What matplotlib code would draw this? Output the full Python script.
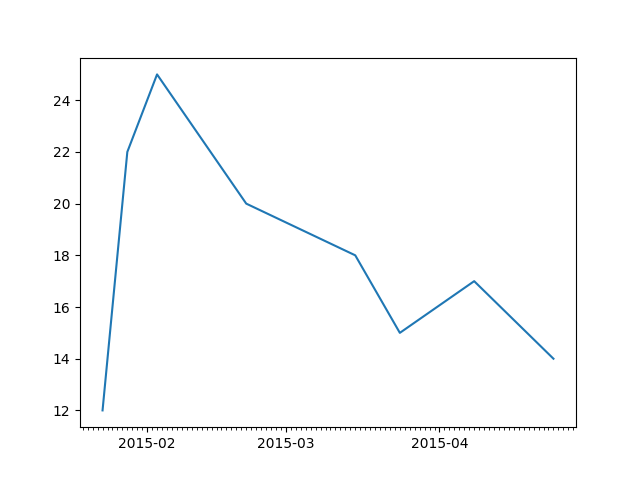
import datetime as dt
import matplotlib
matplotlib.use("Agg")
import matplotlib.pyplot as plt
import matplotlib.dates as mdates

dates = [dt.date(2015, 1, 23), dt.date(2015, 1, 28), dt.date(2015, 2, 3),
         dt.date(2015, 2, 21), dt.date(2015, 3, 15), dt.date(2015, 3, 24),
         dt.date(2015, 4, 8), dt.date(2015, 4, 24)]
values = [12, 22, 25, 20, 18, 15, 17, 14]

fig, ax = plt.subplots(figsize=(6.4, 4.8), dpi=100)
ax.plot(dates, values)
ax.xaxis.set_major_locator(mdates.MonthLocator())
ax.xaxis.set_major_formatter(mdates.DateFormatter('%Y-%m'))
ax.xaxis.set_minor_locator(mdates.DayLocator())
fig.savefig("out.png")
